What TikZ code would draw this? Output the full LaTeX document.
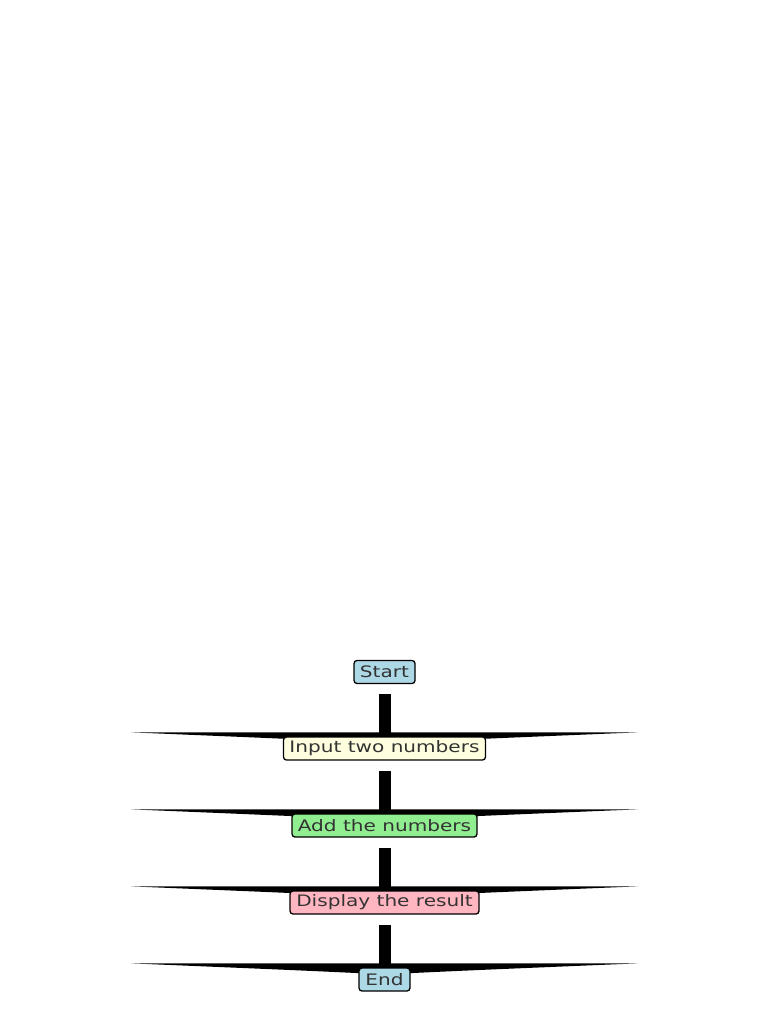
\documentclass[tikz,border=0pt]{standalone}
\usepackage{fontspec}
\newfontfamily\lbl[FakeStretch=1.27]{DejaVu Sans}
\usetikzlibrary{calc,backgrounds}
\definecolor{cBlue}{HTML}{ADD8E6}
\definecolor{cYellow}{HTML}{FFFFE0}
\definecolor{cGreen}{HTML}{90EE90}
\definecolor{cPink}{HTML}{FFB6C1}
\definecolor{cText}{HTML}{333333}
\tikzset{
  stepbox/.style={draw=black, line width=1.3pt, rounded corners=3pt,
    minimum height=23pt, inner sep=0pt, text=cText,
    font=\lbl\fontsize{15.8}{18}\selectfont},
}
\newcommand{\fancyconn}[2]{%
  \fill[black] ($(#1.south)+(-6,10)$) rectangle ($(#2.north)+(6,-3)$);
  \fill[black] ($(#2.north)+(-253.5,-4)$) -- ($(#2.north)+(253.5,-4)$)
    .. controls ($(#2.north)+(84.5,3)$) .. ($(#2.north)+(0,7)$)
    .. controls ($(#2.north)+(-84.5,3)$) .. cycle;
}
\begin{document}
\begin{tikzpicture}[x=1pt,y=-1pt]
\useasboundingbox (0,0) rectangle (768,1024);
\node[stepbox, fill=cBlue, minimum width=61pt] (start) at (384.5,672) {Start};
\node[stepbox, fill=cYellow, minimum width=202pt] (input) at (384.5,748.5) {Input two numbers};
\node[stepbox, fill=cGreen, minimum width=185pt] (add) at (384.5,825.5) {Add the numbers};
\node[stepbox, fill=cPink, minimum width=189pt] (disp) at (384.5,902.5) {Display the result};
\node[stepbox, fill=cBlue, minimum width=51pt] (end) at (384.5,979.5) {End};
\begin{scope}[on background layer]
\fill[white] (0,0) rectangle (768,1024);
\fancyconn{start}{input}
\fancyconn{input}{add}
\fancyconn{add}{disp}
\fancyconn{disp}{end}
\end{scope}
\end{tikzpicture}
\end{document}
